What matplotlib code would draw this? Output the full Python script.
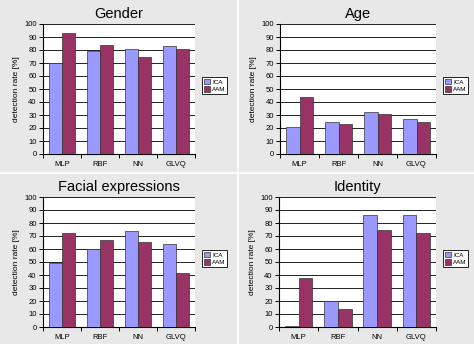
import matplotlib
matplotlib.use("Agg")
import matplotlib.pyplot as plt
from matplotlib.patches import Rectangle
import numpy as np

plt.rcParams['font.family'] = ['Liberation Sans', 'DejaVu Sans']

classifiers = ["MLP", "RBF", "NN", "GLVQ"]
series_names = ["ICA", "AAM"]

gender_ica = [70, 79, 81, 83]
gender_aam = [93, 84, 75, 81]
age_ica = [21, 25, 32, 27]
age_aam = [43.5, 23, 31, 25]
facial_ica = [49, 60, 74, 64]
facial_aam = [72, 67, 65.5, 41.5]
identity_ica = [0.5, 20, 86, 86]
identity_aam = [37.5, 14, 75, 72]

panels = [
    ("Gender", gender_ica, gender_aam),
    ("Age", age_ica, age_aam),
    ("Facial expressions", facial_ica, facial_aam),
    ("Identity", identity_ica, identity_aam),
]

ICA_COLOR = "#9999ff"
AAM_COLOR = "#993366"
BG = "#e8e8e8"

W, H = 474, 344
fig = plt.figure(figsize=(W / 100, H / 100), dpi=100, facecolor="white")

# gray panel backgrounds, white gap between them (pixel coords)
bg_boxes = [(0, 0, 236, 171), (239, 0, 235, 171),
            (0, 174, 236, 170), (239, 174, 235, 170)]
for x, y, w, h in bg_boxes:
    fig.patches.append(Rectangle((x / W, 1 - (y + h) / H), w / W, h / H,
                                 transform=fig.transFigure, color=BG,
                                 zorder=-10))

# plot areas: left, top, right, bottom in pixels
axes_px = [(43, 24, 195, 154), (280, 24, 436, 154),
           (43, 197, 195, 327), (279, 197, 436, 327)]
legend_px = [(202, 77), (443, 77), (202, 250), (443, 250)]

x = np.arange(len(classifiers))
bw = 0.35

for (title, ica, aam), (l, t, r, b), (lx, ly) in zip(panels, axes_px, legend_px):
    ax = fig.add_axes([l / W, 1 - b / H, (r - l) / W, (b - t) / H])
    ax.set_facecolor("white")
    ax.bar(x - bw / 2, ica, bw, color=ICA_COLOR, edgecolor="#333333",
           linewidth=0.5, label=series_names[0], zorder=3)
    ax.bar(x + bw / 2, aam, bw, color=AAM_COLOR, edgecolor="#333333",
           linewidth=0.5, label=series_names[1], zorder=3)
    ax.set_xlim(-0.5, len(classifiers) - 0.5)
    ax.set_ylim(0, 100)
    ax.set_yticks(range(0, 101, 10))
    ax.yaxis.grid(True, color="#222222", linewidth=0.7, zorder=0)
    ax.set_axisbelow(True)
    for s in ("top", "right"):
        ax.spines[s].set_visible(False)
    ax.spines["left"].set_linewidth(0.8)
    ax.spines["bottom"].set_linewidth(0.8)
    ax.tick_params(axis="y", labelsize=5.5, length=3, width=0.7, pad=1.5)
    ax.set_xticks(x)
    ax.set_xticklabels(classifiers)
    ax.tick_params(axis="x", which="major", length=0, labelsize=5.5, pad=5)
    ax.set_xticks(np.arange(-0.5, len(classifiers) + 0.5, 1), minor=True)
    ax.tick_params(axis="x", which="minor", length=3, width=0.7)
    ax.set_ylabel("detection rate [%]", fontsize=6, labelpad=3)
    ax.set_title(title, fontsize=10.5, pad=4)
    lg = ax.legend(loc="upper left",
                   bbox_to_anchor=(lx / W, 1 - ly / H),
                   bbox_transform=fig.transFigure,
                   fontsize=4.5, frameon=True, fancybox=False,
                   edgecolor="black", framealpha=1,
                   handlelength=1.0, handleheight=1.0,
                   handletextpad=0.3, borderpad=0.3,
                   labelspacing=0.2, borderaxespad=0)
    lg.get_frame().set_linewidth(0.6)

fig.savefig("out.png", dpi=100, facecolor=fig.get_facecolor())
